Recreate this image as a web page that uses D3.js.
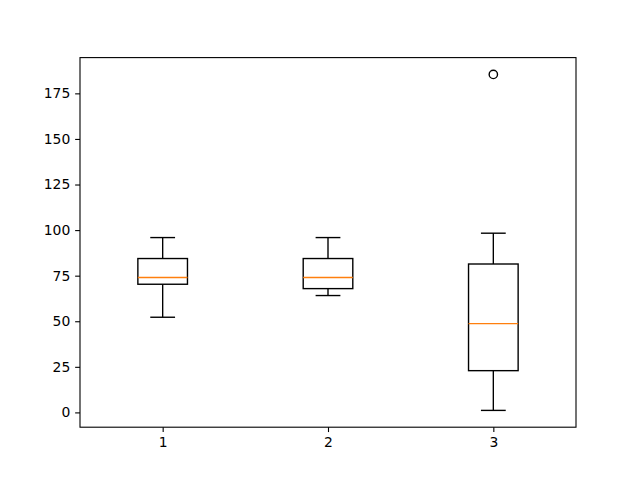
<!DOCTYPE html>
<html><head><meta charset="utf-8">
<script src="https://cdn.jsdelivr.net/npm/d3@7"></script>
<style>body{margin:0;background:#fff}</style>
</head><body>
<svg id="c" width="640" height="480"></svg>
<script>
const categories = ["1", "2", "3"];
const whiskerLow = [52.2, 64.1, 1.1];
const q1 = [70.3, 67.9, 22.9];
const medians = [74.0, 74.0, 48.7];
const q3 = [84.4, 84.4, 81.4];
const whiskerHigh = [95.9, 95.9, 98.3];
const outliers = [[], [], [185.4]];
const yTicks = [0, 25, 50, 75, 100, 125, 150, 175];

const svg = d3.select("#c");
const L = 80, R = 576, T = 57.6, B = 427.2;
const allVals = whiskerLow.concat(whiskerHigh, outliers.flat());
const mn = d3.min(allVals), mx = d3.max(allVals), pad = (mx - mn) * 0.05;
const x = d3.scaleLinear().domain([0.5, 3.5]).range([L, R]);
const y = d3.scaleLinear().domain([mn - pad, mx + pad]).range([B, T]);
const lw = 1.39;
const font = "DejaVu Sans, sans-serif";

const yAxis = svg.append("g").attr("transform", `translate(${L},0)`)
  .call(d3.axisLeft(y).tickValues(yTicks).tickSize(4.86).tickPadding(4.86));
const xAxis = svg.append("g").attr("transform", `translate(0,${B})`)
  .call(d3.axisBottom(x).tickValues([1,2,3]).tickFormat((d,i)=>categories[i]).tickSize(4.86).tickPadding(4.86));
[yAxis, xAxis].forEach(a => {
  a.select(".domain").remove();
  a.selectAll("line").attr("stroke", "#000").attr("stroke-width", 1.1);
  a.selectAll("text").attr("font-family", font).attr("font-size", 13.9).attr("fill", "#000");
});

const bw = 0.3, cw = 0.15;
const g = svg.append("g");
categories.forEach((c, i) => {
  const p = i + 1;
  const line = (x1, y1, x2, y2, col) => g.append("line")
    .attr("x1", x1).attr("y1", y1).attr("x2", x2).attr("y2", y2)
    .attr("stroke", col || "#000").attr("stroke-width", lw);
  // whiskers
  line(x(p), y(q1[i]), x(p), y(whiskerLow[i]));
  line(x(p), y(q3[i]), x(p), y(whiskerHigh[i]));
  // caps
  line(x(p - cw/2), y(whiskerLow[i]), x(p + cw/2), y(whiskerLow[i]));
  line(x(p - cw/2), y(whiskerHigh[i]), x(p + cw/2), y(whiskerHigh[i]));
  // box
  g.append("rect").attr("x", x(p - bw/2)).attr("y", y(q3[i]))
    .attr("width", x(p + bw/2) - x(p - bw/2)).attr("height", y(q1[i]) - y(q3[i]))
    .attr("fill", "none").attr("stroke", "#000").attr("stroke-width", lw);
  // median
  line(x(p - bw/2), y(medians[i]), x(p + bw/2), y(medians[i]), "#ff7f0e");
  // outliers
  outliers[i].forEach(v => g.append("circle").attr("cx", x(p)).attr("cy", y(v)).attr("r", 4.17)
    .attr("fill", "none").attr("stroke", "#000").attr("stroke-width", lw));
});

svg.append("rect").attr("x", L).attr("y", T).attr("width", R - L).attr("height", B - T)
  .attr("fill", "none").attr("stroke", "#000").attr("stroke-width", 1.1);
</script>
</body></html>
